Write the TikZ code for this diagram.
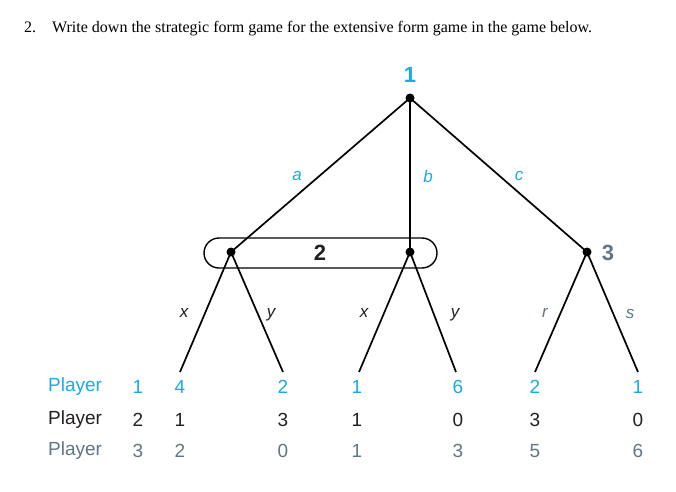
\documentclass[tikz,border=0pt]{standalone}
\usepackage{fontspec}
\setmainfont{Liberation Serif}
\setsansfont{Liberation Sans}
\definecolor{playerOne}{RGB}{29,168,230}
\definecolor{playerTwo}{RGB}{35,31,32}
\definecolor{playerThree}{RGB}{96,118,133}
\tikzset{
  gameDot/.style={circle, fill=black, inner sep=0pt, minimum size=9pt},
  gameEdge/.style={line width=1.7pt},
  moveLbl/.style={font=\sffamily\itshape\fontsize{17}{17}\selectfont},
  ownerLbl/.style={font=\sffamily\bfseries\fontsize{22}{22}\selectfont},
  payLbl/.style={font=\sffamily\fontsize{19}{19}\selectfont}
}
\begin{document}
\begin{tikzpicture}[x=1pt, y=-1pt]
% Page frame
\useasboundingbox (0,0) rectangle (676,491);
% Question text
\node[anchor=base west, inner sep=0pt, font=\fontsize{16}{16}\selectfont] (qnum) at (24,32) {2.};
\node[anchor=base west, inner sep=0pt, font=\fontsize{16}{16}\selectfont] (qtext) at (52,32)
  {Write down the strategic form game for the extensive form game in the game below.};
% Decision nodes
\node[gameDot] (root) at (410,98) {};
\node[gameDot] (twoA) at (231,252) {};
\node[gameDot] (twoB) at (410,252) {};
\node[gameDot] (three) at (587,252) {};
% Terminal points
\coordinate (leafAx) at (180,372);
\coordinate (leafAy) at (283,372);
\coordinate (leafBx) at (359,372);
\coordinate (leafBy) at (456,372);
\coordinate (leafCr) at (535,372);
\coordinate (leafCs) at (638,372);
% Information set of player 2
\draw[line width=1.4pt, rounded corners=15pt] (204,238) rectangle (437,268);
% Branches
\draw[gameEdge] (root.center) -- (twoA.center);
\draw[gameEdge] (root.center) -- (twoB.center);
\draw[gameEdge] (root.center) -- (three.center);
\draw[gameEdge] (twoA.center) -- (leafAx);
\draw[gameEdge] (twoA.center) -- (leafAy);
\draw[gameEdge] (twoB.center) -- (leafBx);
\draw[gameEdge] (twoB.center) -- (leafBy);
\draw[gameEdge] (three.center) -- (leafCr);
\draw[gameEdge] (three.center) -- (leafCs);
% Owners
\node[ownerLbl, text=playerOne] (ownOne) at (410,75) {1};
\node[ownerLbl, text=playerTwo] (ownTwo) at (320,253) {2};
\node[ownerLbl, text=playerThree] (ownThree) at (608,253) {3};
% Move labels
\node[moveLbl, text=playerOne] (mvA) at (297,176) {a};
\node[moveLbl, text=playerOne] (mvB) at (428,176) {b};
\node[moveLbl, text=playerOne] (mvC) at (519,176) {c};
\node[moveLbl, text=playerTwo] (mvAx) at (184,313) {x};
\node[moveLbl, text=playerTwo] (mvAy) at (271,315) {y};
\node[moveLbl, text=playerTwo] (mvBx) at (364,313) {x};
\node[moveLbl, text=playerTwo] (mvBy) at (455,315) {y};
\node[moveLbl, text=playerThree] (mvCr) at (545,313) {r};
\node[moveLbl, text=playerThree] (mvCs) at (630,314) {s};
% Payoff rows
\node[payLbl, anchor=west, inner sep=0pt, text=playerOne] (rowOne) at (48,387) {Player};
\node[payLbl, anchor=west, inner sep=0pt, text=playerTwo] (rowTwo) at (48,420) {Player};
\node[payLbl, anchor=west, inner sep=0pt, text=playerThree] (rowThree) at (48,451) {Player};
\node[payLbl, text=playerOne] (numOne) at (138,387) {1};
\node[payLbl, text=playerTwo] (numTwo) at (138,420) {2};
\node[payLbl, text=playerThree] (numThree) at (138,451) {3};
% Payoffs
\foreach \px/\pa/\pb/\pc in {180/4/1/2, 283/2/3/0, 357/1/1/1, 458/6/0/3, 535/2/3/5, 638/1/0/6}{
  \node[payLbl, text=playerOne] at (\px,387) {\pa};
  \node[payLbl, text=playerTwo] at (\px,420) {\pb};
  \node[payLbl, text=playerThree] at (\px,451) {\pc};
}
\end{tikzpicture}
\end{document}
